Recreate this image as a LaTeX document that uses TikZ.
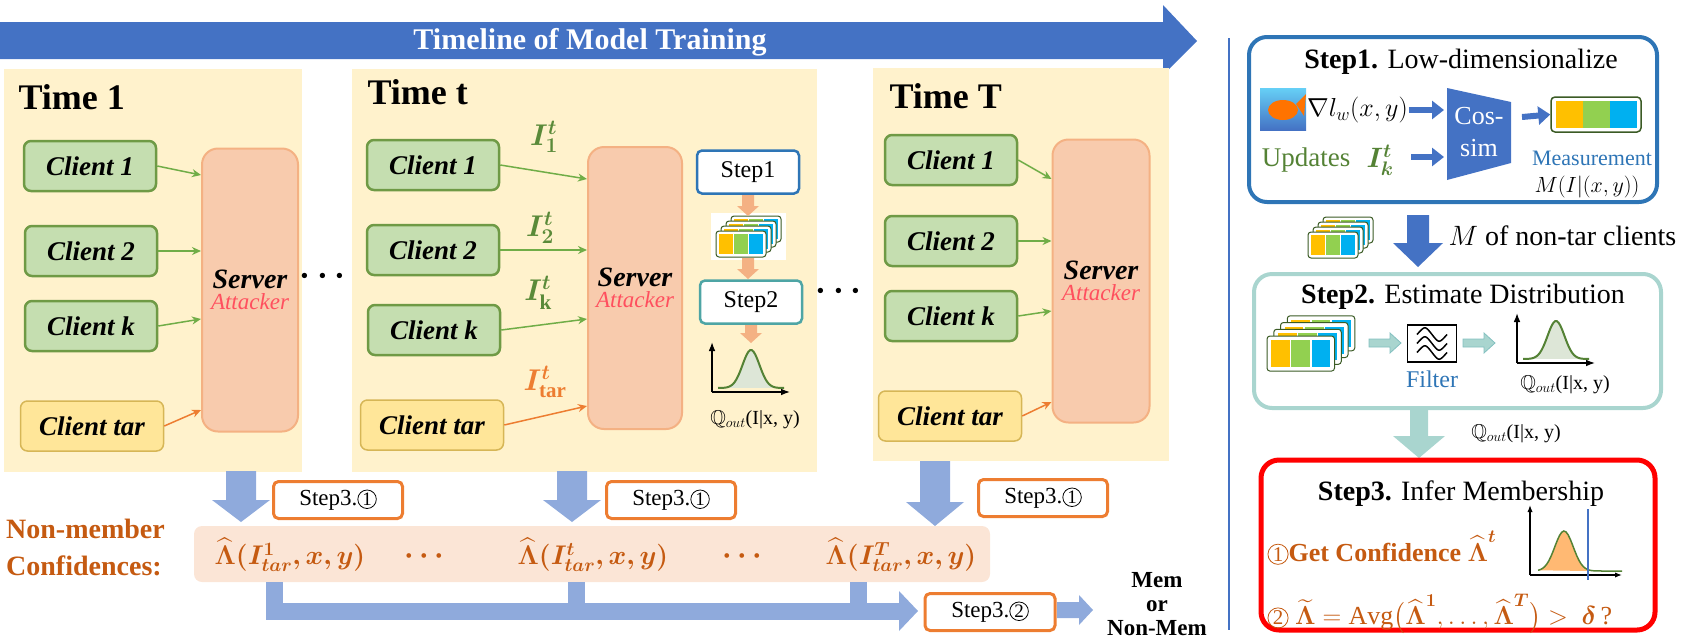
\documentclass[tikz,border=0pt]{standalone}
\usepackage{fix-cm}
\usepackage{amsmath}
\usepackage{amssymb}
\usepackage{bm}
\usepackage{fontspec}
\setmainfont{Liberation Serif}
\usepackage{tikz}
\usetikzlibrary{shapes,arrows.meta,positioning,calc}

\definecolor{panelY}{HTML}{FFF2CC}
\definecolor{cliG}{HTML}{C5DEB0}
\definecolor{cliGd}{HTML}{6F9A45}
\definecolor{tarY}{HTML}{FFE699}
\definecolor{tarYd}{HTML}{D6B656}
\definecolor{srvO}{HTML}{F8CBAD}
\definecolor{srvOd}{HTML}{F4B183}
\definecolor{arrG}{HTML}{70AD47}
\definecolor{arrO}{HTML}{ED7D31}
\definecolor{txtO}{HTML}{C55A11}
\definecolor{tlBlue}{HTML}{4472C4}
\definecolor{lBlue}{HTML}{8FAADC}
\definecolor{bandP}{HTML}{FBE5D6}
\definecolor{stBlue}{HTML}{2E75B6}
\definecolor{stTeal}{HTML}{4EA5A5}
\definecolor{lTeal}{HTML}{A9D5CF}
\definecolor{attR}{HTML}{FF4F5E}
\definecolor{updG}{HTML}{548235}
\definecolor{cY}{HTML}{FFC000}
\definecolor{cG}{HTML}{92D050}
\definecolor{cB}{HTML}{00B0F0}

\newcommand\fsz[1]{\fontsize{#1}{#1}\selectfont}
\newcommand\cnum[2][19]{\tikz[baseline=(cn.base)]\node[circle,draw,line width=.8pt,inner sep=1pt,
    minimum size=0pt,minimum width=0pt,minimum height=0pt,font=\fsz{#1}\mdseries](cn){#2};}
% x, y top, y tip, shaft half, head half, head length, colour
\newcommand\fatdown[7]{\fill[#7] (#1-#4,#2) -- (#1-#4,#3-#6) -- (#1-#5,#3-#6) -- (#1,#3) -- (#1+#5,#3-#6) -- (#1+#4,#3-#6) -- (#1+#4,#2) -- cycle;}
\newcommand\fatright[7]{\fill[#7] (#2,#1-#4) -- (#3-#6,#1-#4) -- (#3-#6,#1-#5) -- (#3,#1) -- (#3-#6,#1+#5) -- (#3-#6,#1+#4) -- (#2,#1+#4) -- cycle;}

\tikzset{
    panel/.style={fill=panelY, minimum width=#1, inner sep=0},
    client/.style={draw=cliGd, fill=cliG, line width=2.5pt, rounded corners=7pt, inner sep=0,
        minimum width=132pt, minimum height=50pt, font=\fsz{27}\bfseries\itshape},
    tarc/.style={client, draw=tarYd, fill=tarY, line width=1.5pt, minimum width=143pt},
    server/.style={draw=srvOd, fill=srvO, line width=2pt, rounded corners=16pt, inner sep=0,
        minimum width=96pt, align=center},
    garr/.style={arrG, line width=1.5pt, -{Stealth[length=9pt,width=8pt]}},
    oarr/.style={arrO, line width=1.5pt, -{Stealth[length=9pt,width=8pt]}},
    smallstep/.style={draw=#1, fill=white, line width=2.5pt, rounded corners=5pt,
        minimum width=102pt, minimum height=43pt, font=\fsz{24}},
    stepthree/.style={draw=arrO, fill=white, line width=3pt, rounded corners=5pt,
        minimum width=129pt, minimum height=37pt, inner sep=0, font=\fsz{23}},
    bigbox/.style={draw=#1, line width=4pt, rounded corners=18pt, inner sep=0},
    lam/.style={text=txtO, font=\fsz{27}, inner sep=1pt},
    barr/.style={tlBlue, line width=6pt, -{Triangle[length=12pt 0,width=18pt 0]}},
    pics/stack/.style={code={
        \foreach \i in {3,2,1,0}{
            \begin{scope}[shift={(5*\i,-5*\i)}]
                \draw[fill=white, draw=updG!70!black, line width=1pt, rounded corners=3pt] (0,0) rectangle (50,26);
                \fill[cY] (3,3) rectangle (17,23);
                \fill[cG] (18,3) rectangle (32,23);
                \fill[cB] (33,3) rectangle (47,23);
            \end{scope}}
    }},
    pics/bell/.style={code={
        \fill[updG!20] plot[domain=0:66, samples=40] (\x+6, {-4-38*exp(-((\x-33)/12)^2)}) -- cycle;
        \draw[updG, line width=2pt] plot[domain=0:66, samples=40] (\x+6, {-4-38*exp(-((\x-33)/12)^2)});
        \draw[line width=1.5pt, -{Latex[length=9pt]}] (0,0) -- (0,-50);
        \draw[line width=1.5pt, -{Latex[length=9pt]}] (0,0) -- (78,0);
    }}
}

\begin{document}
\begin{tikzpicture}[x=1pt, y=-1pt]
    \useasboundingbox (0,0) rectangle (1694,638);

    % timeline
    \fill[tlBlue] (0,22) -- (1163,22) -- (1163,5) -- (1197,41) -- (1163,75) -- (1163,59) -- (0,59) -- cycle;
    \node[text=white, font=\fsz{30}\bfseries] (tl) at (590,42) {Timeline of Model Training};

    % panels
    \node[panel=298pt, minimum height=403pt] (p1) at (153,270) {};
    \node[panel=465pt, minimum height=403pt] (pt) at (584.5,270) {};
    \node[panel=296pt, minimum height=393pt] (pT) at (1021,264.5) {};
    \node[font=\fsz{36}\bfseries, anchor=base west] (l1) at (15,109) {Time 1};
    \node[font=\fsz{36}\bfseries, anchor=base west] (lt) at (364,104) {Time t};
    \node[font=\fsz{36}\bfseries, anchor=base west] (lT) at (886,108) {Time T};

    % time 1
    \node[client] (a1) at (90,166) {Client 1};
    \node[client] (a2) at (91,251) {Client 2};
    \node[client] (ak) at (91,326) {Client k};
    \node[tarc] (at) at (92,426) {Client tar};
    \node[server, minimum height=283pt] (s1) at (250,290)
        {{\fsz{28}\bfseries\itshape Server}\\[4pt]{\fsz{23}\itshape\color{attR}Attacker}};
    \draw[garr] (a1.east) -- ($(a1.east -| s1.west)+(0,9)$);
    \draw[garr] (a2.east) -- (a2.east -| s1.west);
    \draw[garr] (ak.east) -- ($(ak.east -| s1.west)+(0,-7)$);
    \draw[oarr] (at.east) -- ($(at.east -| s1.west)+(0,-16)$);
    \node[font=\fsz{34}] (d1) at (326,276) {$\bm{\cdots}$};

    % time t
    \node[client] (b1) at (433,165) {Client 1};
    \node[client] (b2) at (433,250) {Client 2};
    \node[client] (bk) at (434,330) {Client k};
    \node[tarc] (bt) at (432,425) {Client tar};
    \node[server, minimum height=282pt, minimum width=94pt] (sb) at (635,288)
        {{\fsz{28}\bfseries\itshape Server}\\[4pt]{\fsz{23}\itshape\color{attR}Attacker}};
    \draw[garr] (b1.east) -- ($(b1.east -| sb.west)+(0,14)$);
    \draw[garr] (b2.east) -- (b2.east -| sb.west);
    \draw[garr] (bk.east) -- ($(bk.east -| sb.west)+(0,-11)$);
    \draw[oarr] (bt.east) -- ($(bt.east -| sb.west)+(0,-19)$);
    \node[text=arrG!80!black, font=\fsz{30}] (i1) at (544,137) {$\bm{I_1^t}$};
    \node[text=arrG!80!black, font=\fsz{30}] (i2) at (540,228) {$\bm{I_2^t}$};
    \node[text=arrG!80!black, font=\fsz{30}] (ik) at (538,293) {$\bm{I_{\mathrm{k}}^t}$};
    \node[text=arrO, font=\fsz{30}] (itar) at (545,382) {$\bm{I_{\mathrm{tar}}^t}$};

    \node[smallstep=stBlue] (st1) at (748,172) {Step1};
    \node[smallstep=stTeal] (st2) at (751,302) {Step2};
    \fill[white] (711,213) rectangle (786,260);
    \pic (icon1) at (716,231) {stack};
    \fatdown{748}{195}{216}{6}{11}{10}{srvOd}
    \fatdown{748}{258}{279}{6}{11}{10}{srvOd}
    \fatdown{751}{325}{343}{6}{11}{10}{srvOd}
    \pic (chart1) at (712,392) {bell};
    \node[font=\fsz{20}] (q1) at (755,420) {$\mathbb{Q}_{out}$(I|x, y)};
    \node[font=\fsz{34}] (d2) at (842,291) {$\bm{\cdots}$};

    % time T
    \node[client] (c1) at (951,160) {Client 1};
    \node[client] (c2) at (951,241) {Client 2};
    \node[client] (ck) at (951,316) {Client k};
    \node[tarc] (ct) at (950,416) {Client tar};
    \node[server, minimum height=283pt, minimum width=97pt] (sc) at (1101,281)
        {{\fsz{28}\bfseries\itshape Server}\\[4pt]{\fsz{23}\itshape\color{attR}Attacker}};
    \draw[garr] (c1.east) -- ($(c1.east -| sc.west)+(0,19)$);
    \draw[garr] (c2.east) -- (c2.east -| sc.west);
    \draw[garr] (ck.east) -- ($(ck.east -| sc.west)+(0,-5)$);
    \draw[oarr] (ct.east) -- ($(ct.east -| sc.west)+(0,-14)$);

    % confidences
    \fatdown{241}{471}{522}{15}{29}{22}{lBlue}
    \fatdown{572}{471}{522}{15}{29}{22}{lBlue}
    \fatdown{935}{461}{526}{15}{29}{24}{lBlue}
    \node[stepthree] (e1) at (338,500) {Step3.\cnum{1}};
    \node[stepthree] (e2) at (671,500) {Step3.\cnum{1}};
    \node[stepthree] (e3) at (1043,498) {Step3.\cnum{1}};
    \node[text=txtO, font=\fsz{28}\bfseries, align=left, anchor=west, inner sep=1pt] (nm) at (5,547)
        {Non-member\\[9pt]Confidences:};
    \fill[bandP, rounded corners=8pt] (194,526) rectangle (990,582);
    \node[lam] (lam1) at (290,555) {$\bm{\widehat{\Lambda}(I^1_{tar},x,y)}$};
    \node[lam] (lam2) at (593,555) {$\bm{\widehat{\Lambda}(I^t_{tar},x,y)}$};
    \node[lam] (lam3) at (901,555) {$\bm{\widehat{\Lambda}(I^T_{tar},x,y)}$};
    \node[text=txtO, font=\fsz{30}] (d3) at (427,556) {$\bm{\cdots}$};
    \node[text=txtO, font=\fsz{30}] (d4) at (745,556) {$\bm{\cdots}$};
    \draw[lBlue, line width=17pt] (274,582) -- (274,611) -- (900,611);
    \draw[lBlue, line width=17pt] (576,582) -- (576,611);
    \draw[lBlue, line width=17pt] (858,582) -- (858,611);
    \fatright{611}{899}{918}{8.5}{20}{19}{lBlue}
    \node[stepthree, minimum width=130pt] (e4) at (990,612) {Step3.\cnum{2}};
    \fatright{610}{1057}{1093}{8}{15}{14}{lBlue}
    \node[font=\fsz{23}\bfseries, align=center] (mem) at (1157,604) {Mem\\[1pt]or\\[1pt]Non-Mem};

    % separator
    \draw[tlBlue, line width=2pt] (1229,38) -- (1229,630);

    % step 1
    \node[bigbox=stBlue, minimum width=408pt, minimum height=165pt] (B1) at (1453,119.5) {};
    \node[font=\fsz{28}] (B1t) at (1461,62) {\textbf{Step1.} Low-dimensionalize};
    \shade[top color=cB!60, bottom color=tlBlue] (1260,88) rectangle (1306,130);
    \fill[orange!90!red] (1283,110) ellipse (15pt and 10pt);
    \fill[orange!90!red] (1296,104) -- (1306,94) -- (1304,116) -- cycle;
    \node[font=\fsz{26}, anchor=west, inner sep=1pt] (grad) at (1306,110) {$\nabla l_w(x,y)$};
    \node[text=updG, font=\fsz{27}] (upd) at (1306,160) {Updates};
    \node[text=updG, font=\fsz{28}] (ikt) at (1380,160) {$\bm{I_k^t}$};
    \fill[tlBlue] (1447,88) -- (1511,102) -- (1511,163) -- (1447,180) -- cycle;
    \node[text=white, font=\fsz{26}, align=center] (cos) at (1479,132) {Cos-\\[6pt]sim};
    \coordinate (cosin1) at (1444,110);
    \coordinate (cosin2) at (1444,157);
    \draw[barr] (grad.east) -- (cosin1);
    \draw[barr] (1411,157) -- (cosin2);
    \node[draw=updG!70!black, line width=1.5pt, rounded corners=4pt, minimum width=90pt,
        minimum height=35pt] (vec) at (1596,114.5) {};
    \fill[cY] (1556,101) rectangle (1583,128);
    \fill[cG] (1583,101) rectangle (1610,128);
    \fill[cB] (1610,101) rectangle (1637,128);
    \draw[barr] (1522,117) -- (vec.west);
    \node[text=stBlue, font=\fsz{22}] (meas) at (1592,158) {Measurement};
    \node[font=\fsz{22}, anchor=east] (mfun) at (1643,187) {$M(I|(x,y))$};

    % between 1 and 2
    \pic (icon2) at (1308,232) {stack};
    \fatdown{1418}{215}{267}{11}{25}{24}{tlBlue}
    \node[font=\fsz{28}, anchor=west] (mnon) at (1445,236) {$M$ of non-tar clients};

    % step 2
    \node[bigbox=lTeal, minimum width=407pt, minimum height=134pt] (B2) at (1457.5,341) {};
    \node[font=\fsz{28}] (B2t) at (1463,297) {\textbf{Step2.} Estimate Distribution};
    \pic[scale=1.35] (icon3) at (1267,336) {stack};
    \node[draw, line width=1.5pt, minimum width=49pt, minimum height=37pt, inner sep=0] (flt) at (1432,343.5) {};
    \foreach \dy in {-9,0,9}
        \draw[line width=1.5pt] ($(flt.center)+(-15,\dy)$) .. controls +(8,-9) and +(-7,-9) .. +(15,0)
            .. controls +(7,9) and +(-8,9) .. +(30,0);
    \fill[lTeal, draw=stTeal!70, line width=.8pt] (1369,339) -- (1390,339) -- (1390,333) -- (1401,343) -- (1390,353) -- (1390,347) -- (1369,347) -- cycle;
    \fill[lTeal, draw=stTeal!70, line width=.8pt] (1463,339) -- (1484,339) -- (1484,333) -- (1495,343) -- (1484,353) -- (1484,347) -- (1463,347) -- cycle;
    \node[text=stBlue, font=\fsz{24}] (fltl) at (1432,379) {Filter};
    \pic (chart2) at (1517,363) {bell};
    \node[font=\fsz{20}] (q2) at (1565,385) {$\mathbb{Q}_{out}$(I|x, y)};

    % between 2 and 3
    \fatdown{1419}{410}{458}{9}{26}{22}{lTeal}
    \node[font=\fsz{20}] (q3) at (1516,434) {$\mathbb{Q}_{out}$(I|x, y)};

    % step 3
    \node[bigbox=red, line width=5pt, minimum width=394pt, minimum height=170pt] (B3) at (1458,545) {};
    \node[font=\fsz{28}] (B3t) at (1461,494) {\textbf{Step3.} Infer Membership};
    \node[text=txtO, font=\fsz{26}\bfseries, anchor=west] (gc) at (1264,548)
        {\cnum[21]{1}Get Confidence $\bm{\widehat{\Lambda}^t}$};
    \fill[orange!55] plot[domain=0:50, samples=30] (\x+1538, {571-40*exp(-((\x-26)/13)^2)}) -- (1588,571) -- cycle;
    \fill[updG!20] plot[domain=50:84, samples=20] (\x+1538, {571-40*exp(-((\x-26)/13)^2)}) -- (1622,571) -- (1588,571) -- cycle;
    \draw[updG, line width=1.5pt] plot[domain=0:84, samples=40] (\x+1538, {571-40*exp(-((\x-26)/13)^2)});
    \draw[line width=1.2pt, -{Latex[length=7pt]}] (1530,575) -- (1530,505);
    \draw[line width=1.2pt, -{Latex[length=7pt]}] (1530,575) -- (1622,575);
    \draw[tlBlue, line width=1.5pt] (1588,509) -- (1588,580);
    \node[text=txtO, font=\fsz{26}, anchor=west] (avg) at (1264,614)
        {\cnum[21]{2} $\bm{\widetilde{\Lambda}} = \mathrm{Avg}\big(\bm{\widehat{\Lambda}^1},\dots,\bm{\widehat{\Lambda}^T}\big) >\ \bm{\delta}\,$?};
\end{tikzpicture}
\end{document}
